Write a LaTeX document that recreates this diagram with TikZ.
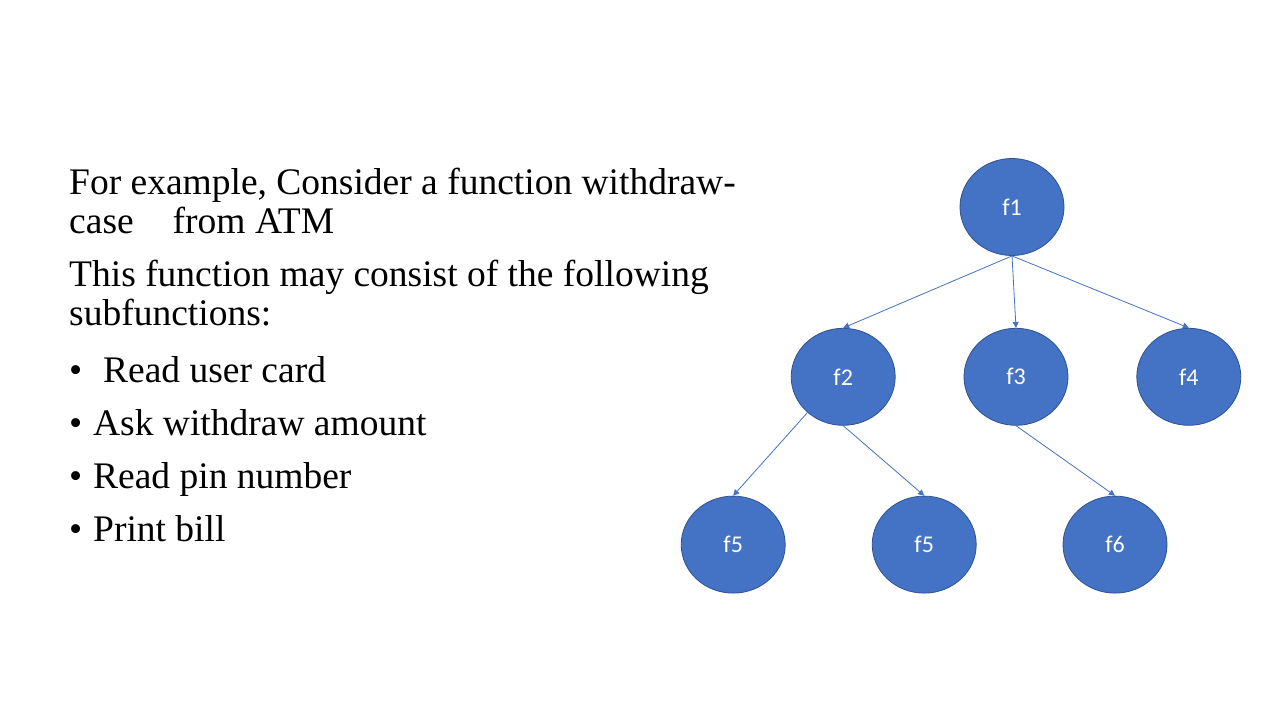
\documentclass[tikz,border=0pt]{standalone}
\usepackage{fontspec}
\setmainfont{Liberation Serif}
\newfontfamily\calibrifont{Carlito}
\usepackage{tikz}
\usetikzlibrary{arrows.meta, positioning, shapes.geometric}

\definecolor{ppblue}{HTML}{4472C4}
\definecolor{ppedge}{HTML}{2F528F}

\begin{document}
\begin{tikzpicture}[
  x=1pt, y=-1pt,
  slide/.style={anchor=base west, inner sep=0pt, align=left,
                font=\fontsize{37.5}{38.5}\selectfont},
  fnode/.style={ellipse, draw=ppedge, fill=ppblue, line width=0.8pt,
                minimum width=104pt, minimum height=97pt, inner sep=0pt,
                text=white, font=\calibrifont\fontsize{24}{26}\selectfont},
  arr/.style={-{Triangle[length=6pt, width=6pt]}, draw=ppblue, line width=0.8pt}
]

\useasboundingbox[fill=white] (0,0) rectangle (1280,720);

% left text (base = last line)
\node[slide] (intro) at (69,233) {For example, Consider a function withdraw-\\
case\hspace{39pt}from ATM};
\node[slide] (cons) at (69,325) {This function may consist of the following\\
subfunctions:};
\node[slide] (b1) at (69,382) {\makebox[34pt][l]{\textbullet}Read user card};
\node[slide] (b2) at (69,435) {\makebox[24pt][l]{\textbullet}Ask withdraw amount};
\node[slide] (b3) at (69,488) {\makebox[24pt][l]{\textbullet}Read pin number};
\node[slide] (b4) at (69,541) {\makebox[24pt][l]{\textbullet}Print bill};

% tree
\node[fnode] (f1) at (1012,207) {f1};
\node[fnode, below=72pt of f1, xshift=4pt] (f3) {f3};
\node[fnode, left=68pt of f3] (f2) {f2};
\node[fnode, right=68pt of f3] (f4) {f4};
\node[fnode, below=70pt of f2, xshift=-110pt] (f5a) {f5};
\node[fnode, below=70pt of f2, xshift=81pt] (f5b) {f5};
\node[fnode, below=70pt of f3, xshift=99pt] (f6) {f6};

\draw[arr] (f1.south) -- (f2.north);
\draw[arr] (f1.south) -- (f3.north);
\draw[arr] (f1.south) -- (f4.north);
\draw[arr] (f2.-135) -- (f5a.north);
\draw[arr] (f2.south) -- (f5b.north);
\draw[arr] (f3.south) -- (f6.north);

\end{tikzpicture}
\end{document}
